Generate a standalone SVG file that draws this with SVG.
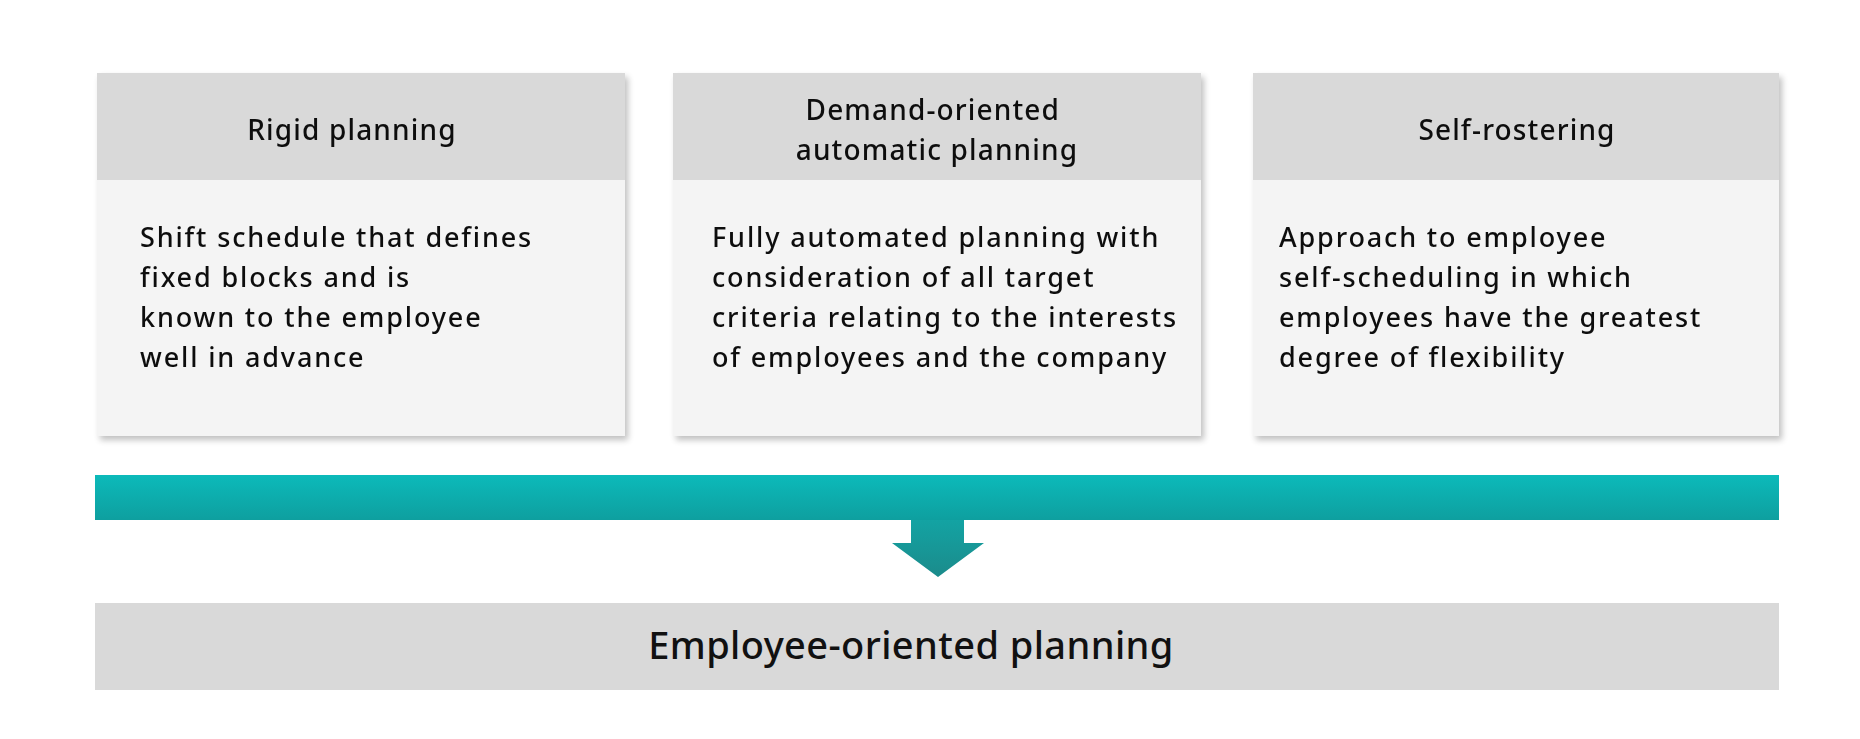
<svg xmlns="http://www.w3.org/2000/svg" width="1860" height="739" viewBox="0 0 1860 739">
  <defs>
    <linearGradient id="teal" x1="0" y1="0" x2="0" y2="1">
      <stop offset="0" stop-color="#0cbaba"/>
      <stop offset="1" stop-color="#0e9f9f"/>
    </linearGradient>
    <linearGradient id="arrowGrad" x1="0" y1="0" x2="0" y2="1">
      <stop offset="0" stop-color="#13a3a3"/>
      <stop offset="1" stop-color="#1b8b8b"/>
    </linearGradient>
    <filter id="shadow" x="-5%" y="-5%" width="112%" height="115%">
      <feGaussianBlur in="SourceAlpha" stdDeviation="3"/>
      <feOffset dx="3" dy="4" result="b"/>
      <feComponentTransfer><feFuncA type="linear" slope="0.25"/></feComponentTransfer>
      <feMerge><feMergeNode/><feMergeNode in="SourceGraphic"/></feMerge>
    </filter>
    <style>
      .hdr { fill: #d9d9d9; }
      .body { fill: #f4f4f4; }
      .title { font-family: "Noto Sans", "Open Sans", sans-serif; font-weight: 500; font-size: 28px; letter-spacing: 1.15px; fill: #111; text-anchor: middle; }
      .txt { font-family: "Noto Sans", "Open Sans", sans-serif; font-weight: 500; font-size: 27px; letter-spacing: 1.85px; fill: #111; }
      .big { font-family: "Noto Sans", "Open Sans", sans-serif; font-weight: 500; font-size: 38px; letter-spacing: 0.4px; fill: #111; text-anchor: middle; }
    </style>
  </defs>
  <rect x="0" y="0" width="1860" height="739" fill="#ffffff"/>

  <g id="node-rigid" filter="url(#shadow)">
    <rect class="body" x="97" y="73" width="528" height="363"/>
    <rect class="hdr" x="97" y="73" width="528" height="107"/>
    <text class="title" x="352" y="140">Rigid planning</text>
    <text class="txt" x="140" y="247">
      <tspan x="140" y="247">Shift schedule that defines</tspan>
      <tspan x="140" y="287">fixed blocks and is</tspan>
      <tspan x="140" y="327">known to the employee</tspan>
      <tspan x="140" y="367">well in advance</tspan>
    </text>
  </g>

  <g id="node-demand" filter="url(#shadow)">
    <rect class="body" x="673" y="73" width="528" height="363"/>
    <rect class="hdr" x="673" y="73" width="528" height="107"/>
    <text class="title" x="937" y="120">
      <tspan x="937" y="120">Demand-oriented</tspan>
      <tspan x="937" y="160">automatic planning</tspan>
    </text>
    <text class="txt" x="712" y="247">
      <tspan x="712" y="247">Fully automated planning with</tspan>
      <tspan x="712" y="287">consideration of all target</tspan>
      <tspan x="712" y="327">criteria relating to the interests</tspan>
      <tspan x="712" y="367">of employees and the company</tspan>
    </text>
  </g>

  <g id="node-self" filter="url(#shadow)">
    <rect class="body" x="1253" y="73" width="526" height="363"/>
    <rect class="hdr" x="1253" y="73" width="526" height="107"/>
    <text class="title" x="1517" y="140">Self-rostering</text>
    <text class="txt" x="1279" y="247">
      <tspan x="1279" y="247">Approach to employee</tspan>
      <tspan x="1279" y="287">self-scheduling in which</tspan>
      <tspan x="1279" y="327">employees have the greatest</tspan>
      <tspan x="1279" y="367">degree of flexibility</tspan>
    </text>
  </g>

  <g id="connectors">
    <rect x="95" y="475" width="1684" height="45" fill="url(#teal)"/>
    <path d="M911 520 L964 520 L964 543 L984 543 L938 577 L892 543 L911 543 Z" fill="url(#arrowGrad)"/>
  </g>

  <g id="node-employee">
    <rect x="95" y="603" width="1684" height="87" fill="#d9d9d9"/>
    <text class="big" x="911" y="659">Employee-oriented planning</text>
  </g>
</svg>
